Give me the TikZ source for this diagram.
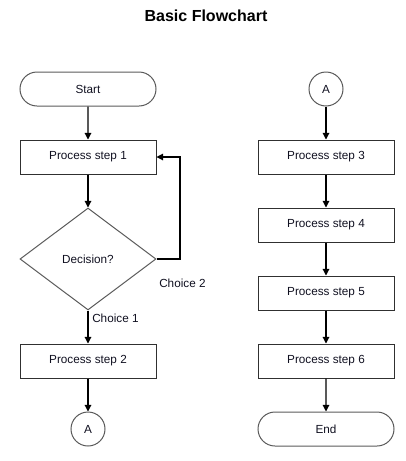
\documentclass[tikz,border=0pt]{standalone}
\usepackage{fontspec}
\setmainfont{Liberation Sans}
\usetikzlibrary{shapes.geometric,shapes.misc,arrows.meta}
\definecolor{edgegray}{HTML}{5A5A5A}
\definecolor{boxline}{HTML}{303030}
\definecolor{txt}{HTML}{101020}
\begin{document}
\begin{tikzpicture}[x=0.75pt,y=-0.75pt,
  every node/.style={font=\fontsize{8.8pt}{10pt}\selectfont,text=txt},
  procbox/.style={draw=boxline,line width=0.75pt,rectangle,minimum width=102pt,minimum height=25.5pt,inner sep=0pt},
  terminal/.style={draw=edgegray,line width=0.75pt,rounded rectangle,minimum width=102pt,minimum height=25.5pt,inner sep=0pt},
  decision/.style={draw=edgegray,line width=0.75pt,diamond,minimum width=102pt,minimum height=76.5pt,inner sep=0pt,aspect=1.333},
  connector/.style={draw=edgegray,line width=0.75pt,circle,minimum size=25.5pt,inner sep=0pt},
  flow/.style={draw=black,line width=0.8pt,-{Triangle[length=5pt,width=5pt]}},
  lbl/.style={anchor=west,inner sep=0pt}
]
\useasboundingbox (0,0) rectangle (405,461);
\node[font=\fontsize{12pt}{14pt}\bfseries\selectfont,text=black] (title) at (206,16) {Basic Flowchart};
\node[terminal] (start) at (88,89) {Start};
\node[procbox] (p1) at (88,157) {Process step 1};
\node[decision] (dec) at (88,259) {Decision?};
\node[procbox] (p2) at (88,361) {Process step 2};
\node[connector] (a1) at (88,429) {A};
\node[connector] (a2) at (326,89) {A};
\node[procbox] (p3) at (326,157) {Process step 3};
\node[procbox] (p4) at (326,225) {Process step 4};
\node[procbox] (p5) at (326,293) {Process step 5};
\node[procbox] (p6) at (326,361) {Process step 6};
\node[terminal] (end) at (326,429) {End};
\coordinate (loopc) at (180,259);
\draw[flow] (start) -- (p1);
\draw[flow] (p1) -- (dec);
\draw[flow] (dec) -- (p2);
\draw[flow] (p2) -- (a1);
\draw[flow] (dec.east) -- (loopc) |- (p1.east);
\draw[flow] (a2) -- (p3);
\draw[flow] (p3) -- (p4);
\draw[flow] (p4) -- (p5);
\draw[flow] (p5) -- (p6);
\draw[flow] (p6) -- (end);
\node[lbl] (c2) at (159,283) {Choice 2};
\node[lbl] (c1) at (92,318) {Choice 1};
\end{tikzpicture}
\end{document}
